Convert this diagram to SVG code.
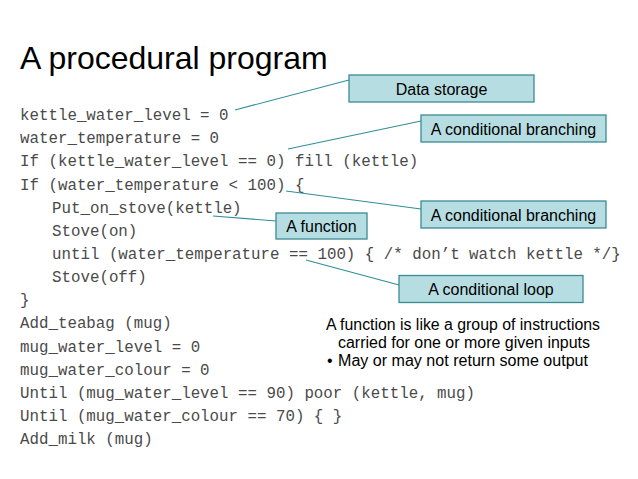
<svg xmlns="http://www.w3.org/2000/svg" width="638" height="479" viewBox="0 0 638 479">
<style>
.code{font-family:"Liberation Mono","Courier New",monospace;font-size:15.8px;fill:#4a4a4a;white-space:pre}
.title{font-family:"Liberation Sans",Arial,sans-serif;font-size:32px;fill:#000}
.box{fill:#b6dde2;stroke:#3a8b95;stroke-width:1.3}
.lbl{font-family:"Liberation Sans",Arial,sans-serif;font-size:16px;fill:#000;text-anchor:middle}
.note{font-family:"Liberation Sans",Arial,sans-serif;font-size:16px;fill:#000}
.conn line{stroke:#2f8f99;stroke-width:1.2}
</style>
<rect width="638" height="479" fill="#fff"/>
<text class="title" x="20" y="69">A procedural program</text>
<g id="code">
<text class="code" x="20" y="120">kettle_water_level = 0</text>
<text class="code" x="20" y="143.2">water_temperature = 0</text>
<text class="code" x="20" y="166.3">If (kettle_water_level == 0) fill (kettle)</text>
<text class="code" x="20" y="189.5">If (water_temperature &lt; 100) {</text>
<text class="code" x="52" y="212.6">Put_on_stove(kettle)</text>
<text class="code" x="52" y="235.8">Stove(on)</text>
<text class="code" x="52" y="258.9">until (water_temperature == 100) { /* don’t watch kettle */}</text>
<text class="code" x="52" y="282">Stove(off)</text>
<text class="code" x="20" y="305.2">}</text>
<text class="code" x="20" y="328.4">Add_teabag (mug)</text>
<text class="code" x="20" y="351.5">mug_water_level = 0</text>
<text class="code" x="20" y="374.7">mug_water_colour = 0</text>
<text class="code" x="20" y="397.8">Until (mug_water_level == 90) poor (kettle, mug)</text>
<text class="code" x="20" y="421">Until (mug_water_colour == 70) { }</text>
<text class="code" x="20" y="444.1">Add_milk (mug)</text>
</g>
<g id="connectors" class="conn">
<line x1="235" y1="110" x2="349" y2="80"/>
<line x1="288" y1="149" x2="421" y2="121"/>
<line x1="286" y1="191" x2="421" y2="209"/>
<line x1="213" y1="216" x2="276" y2="221"/>
<line x1="306" y1="260" x2="399" y2="285"/>
</g>
<g id="data-storage">
<rect class="box" x="349" y="75" width="185" height="27"/>
<text class="lbl" x="441.5" y="94.5">Data storage</text>
</g>
<g id="cond-branching-1">
<rect class="box" x="421" y="115" width="185" height="27"/>
<text class="lbl" x="513.5" y="134.5">A conditional branching</text>
</g>
<g id="cond-branching-2">
<rect class="box" x="421" y="201" width="185" height="27"/>
<text class="lbl" x="513.5" y="220.5">A conditional branching</text>
</g>
<g id="function">
<rect class="box" x="276" y="213" width="91" height="26"/>
<text class="lbl" x="321.5" y="232">A function</text>
</g>
<g id="cond-loop">
<rect class="box" x="399" y="275.5" width="184" height="27"/>
<text class="lbl" x="491" y="294.5">A conditional loop</text>
</g>
<g id="note">
<text class="note" x="326" y="330" textLength="274" lengthAdjust="spacingAndGlyphs">A function is like a group of instructions</text>
<text class="note" x="338" y="347.5" textLength="252" lengthAdjust="spacingAndGlyphs">carried for one or more given inputs</text>
<text class="note" x="327" y="366">•</text>
<text class="note" x="338" y="366" textLength="250" lengthAdjust="spacingAndGlyphs">May or may not return some output</text>
</g>
</svg>
